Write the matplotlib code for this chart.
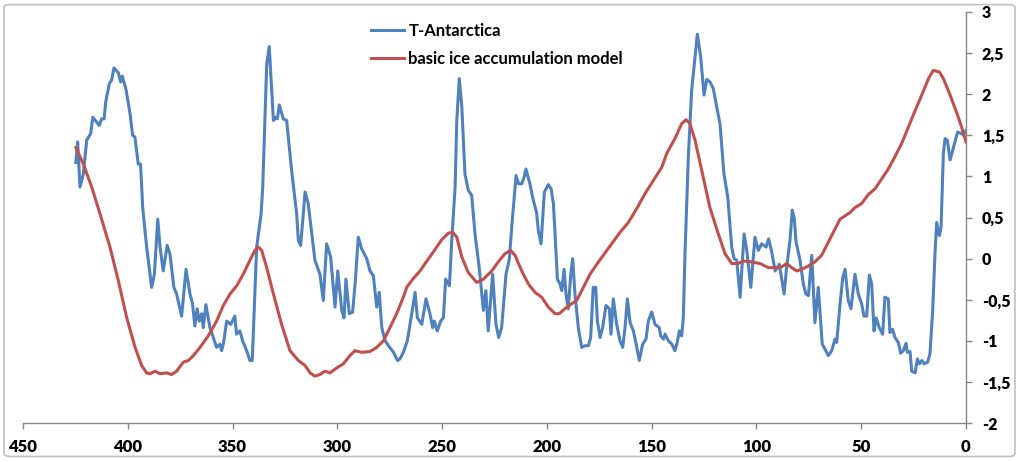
import matplotlib
matplotlib.use("Agg")
import matplotlib.pyplot as plt
from matplotlib.patches import FancyBboxPatch
from matplotlib.ticker import FixedLocator, FuncFormatter

## data (age in kyr BP, temperature anomaly)
t_age = [424.8, 423.9, 422.8, 421.2, 419.6, 417.7, 416.7, 413.6, 412.5, 411.3,
         410.5, 408.8, 407.7, 406.6, 404.5, 403.4, 402.6, 400.8, 398.9, 397.7,
         396.6, 395.0, 393.9, 392.9, 391.0, 388.6, 387.3, 385.7, 384.6, 383.1,
         381.2, 379.9, 378.0, 376.7, 374.3, 372.2, 370.3, 369.1, 368.0, 366.9,
         365.9, 364.7, 364.0, 362.7, 360.8, 357.6, 356.0, 355.2, 354.4, 352.8,
         350.9, 348.9, 348.1, 346.5, 345.2, 343.3, 341.7, 340.6, 338.5, 336.4,
         335.6, 333.7, 332.5, 330.5, 329.4, 328.6, 327.7, 325.8, 324.2, 321.8,
         319.4, 318.6, 317.5, 315.4, 313.9, 310.7, 308.3, 306.7, 305.1, 303.2,
         301.1, 299.8, 297.9, 296.8, 295.9, 294.3, 292.7, 291.4, 290.0, 288.4,
         286.0, 284.4, 282.8, 281.2, 280.0, 278.8, 277.2, 275.6, 273.2, 271.3,
         270.1, 268.5, 266.6, 264.5, 262.9, 261.8, 259.7, 257.7, 255.8, 254.5,
         253.7, 252.3, 250.7, 249.4, 248.3, 246.5, 245.4, 243.8, 243.0, 241.8,
         240.6, 239.1, 237.5, 235.9, 234.3, 232.3, 230.3, 229.1, 228.0, 225.9,
         224.3, 223.0, 221.6, 219.5, 217.9, 216.8, 214.7, 213.5, 212.0, 210.9,
         210.0, 208.1, 206.5, 204.9, 204.1, 202.8, 201.2, 199.3, 198.0, 196.9,
         196.1, 195.0, 193.7, 192.9, 191.8, 190.9, 189.8, 188.6, 187.7, 186.6,
         185.0, 183.4, 181.8, 180.2, 179.1, 177.9, 176.7, 175.9, 174.6, 173.4,
         171.8, 170.2, 169.4, 168.3, 166.7, 165.1, 163.8, 162.7, 161.6, 160.3,
         158.7, 157.1, 155.9, 154.3, 152.7, 151.6, 150.0, 148.4, 146.4, 145.7,
         144.4, 143.6, 142.0, 140.4, 138.9, 137.8, 136.8, 135.7, 134.9, 134.1,
         132.5, 130.9, 129.3, 128.2, 126.6, 125.0, 123.7, 122.2, 120.6, 119.0,
         117.4, 115.5, 113.7, 111.8, 110.7, 109.4, 107.8, 105.9, 104.6, 102.7,
         100.7, 99.1, 97.5, 95.4, 94.2, 92.7, 91.1, 89.1, 86.8, 85.6,
         84.0, 82.9, 81.9, 81.1, 79.2, 77.6, 76.4, 75.2, 73.6, 72.1,
         70.5, 68.6, 66.9, 65.7, 64.1, 62.5, 61.7, 60.1, 58.8, 57.7,
         56.2, 54.9, 53.0, 51.4, 49.8, 48.7, 47.4, 46.1, 45.0, 43.9,
         42.9, 41.4, 39.8, 38.7, 37.1, 36.3, 35.0, 33.9, 32.3, 31.2,
         29.9, 28.6, 28.0, 26.7, 25.9, 24.3, 23.2, 22.3, 21.1, 20.0,
         18.3, 17.2, 15.9, 14.8, 14.0, 12.7, 11.9, 10.8, 10.0, 8.9,
         7.6, 6.1, 4.0, 2.1, 1.3, 0.0]
t_antarctica = [1.17, 1.42, 0.87, 1.03, 1.44, 1.52, 1.72, 1.62, 1.70, 1.70,
                1.91, 2.13, 2.17, 2.32, 2.26, 2.15, 2.22, 2.05, 1.76, 1.50,
                1.48, 1.15, 1.15, 0.63, 0.14, -0.35, -0.19, 0.48, 0.14, -0.15,
                0.16, 0.06, -0.35, -0.43, -0.70, -0.13, -0.43, -0.55, -0.82, -0.61,
                -0.76, -0.67, -0.84, -0.56, -0.84, -1.08, -1.04, -1.12, -1.04, -0.76,
                -0.80, -0.70, -0.92, -0.88, -1.00, -1.12, -1.24, -1.24, 0.14, 0.54,
                0.87, 2.37, 2.58, 1.68, 1.72, 1.70, 1.87, 1.70, 1.68, 1.07,
                0.54, 0.22, 0.16, 0.81, 0.67, -0.02, -0.19, -0.51, 0.18, 0.02,
                -0.59, -0.15, -0.63, -0.72, -0.25, -0.67, -0.65, -0.27, 0.26, 0.12,
                0.00, -0.15, -0.21, -0.59, -0.41, -0.84, -1.00, -1.06, -1.14, -1.24,
                -1.22, -1.14, -1.00, -0.67, -0.41, -0.72, -0.80, -0.49, -0.67, -0.84,
                -0.76, -0.88, -0.76, -0.72, -0.25, -0.33, 0.22, 0.87, 1.68, 2.19,
                1.85, 1.03, 0.83, 0.77, 0.30, -0.11, -0.63, -0.39, -0.88, -0.19,
                -0.80, -0.96, -0.84, -0.19, 0.00, 0.38, 1.01, 0.91, 0.91, 0.99,
                1.09, 0.91, 0.71, 0.56, 0.34, 0.18, 0.81, 0.90, 0.85, 0.67,
                0.30, -0.25, -0.31, -0.39, -0.13, -0.43, -0.61, -0.19, 0.00, -0.43,
                -0.84, -1.08, -1.06, -1.06, -0.96, -0.35, -0.35, -0.76, -0.96, -0.84,
                -0.57, -0.61, -0.92, -0.49, -0.80, -1.00, -1.08, -0.84, -0.49, -0.78,
                -0.88, -1.08, -1.24, -1.04, -0.98, -0.76, -0.65, -0.80, -0.84, -0.94,
                -0.98, -0.92, -1.00, -1.04, -1.12, -1.02, -0.88, -0.94, -0.72, 0.06,
                1.24, 2.05, 2.45, 2.73, 2.45, 1.99, 2.18, 2.15, 2.07, 1.85,
                1.64, 1.03, 0.75, 0.14, 0.00, -0.02, -0.47, 0.30, 0.10, -0.35,
                0.26, 0.10, 0.18, 0.14, 0.24, 0.08, -0.15, -0.07, -0.43, -0.11,
                0.22, 0.59, 0.48, 0.20, -0.02, -0.31, -0.43, -0.45, 0.04, -0.78,
                -0.35, -1.04, -1.12, -1.18, -1.12, -0.98, -1.02, -0.55, -0.23, -0.13,
                -0.51, -0.61, -0.19, -0.43, -0.55, -0.70, -0.70, -0.20, -0.31, -0.88,
                -0.72, -0.84, -0.92, -0.47, -0.49, -0.90, -0.86, -0.96, -1.02, -1.15,
                -1.12, -1.03, -1.14, -1.13, -1.37, -1.39, -1.22, -1.28, -1.24, -1.28,
                -1.26, -1.16, -0.63, 0.06, 0.44, 0.28, 0.38, 1.28, 1.46, 1.44,
                1.20, 1.34, 1.54, 1.52, 1.50, 1.56]

m_age = [424.8, 421.2, 417.2, 413.2, 408.5, 404.5, 400.5, 396.5, 393.4, 391.0,
         389.4, 387.0, 384.6, 381.5, 379.1, 376.7, 373.5, 371.1, 368.7, 365.5,
         361.6, 357.6, 354.4, 351.2, 348.0, 344.9, 341.7, 339.3, 337.7, 336.1,
         333.7, 330.5, 326.6, 322.6, 318.6, 315.4, 313.0, 310.7, 308.3, 305.9,
         303.5, 300.3, 297.1, 294.0, 291.6, 288.4, 284.4, 281.2, 278.0, 274.9,
         271.7, 268.5, 266.9, 263.7, 260.5, 257.3, 254.2, 250.2, 247.0, 244.9,
         243.0, 240.6, 237.5, 233.5, 230.3, 226.3, 223.2, 220.0, 217.3, 215.2,
         212.0, 208.8, 205.7, 202.5, 199.3, 196.1, 194.1, 191.4, 188.2, 185.8,
         182.6, 179.4, 176.2, 173.1, 169.1, 165.1, 161.1, 157.1, 153.2, 149.2,
         145.2, 142.8, 138.9, 135.7, 133.6, 131.7, 129.3, 126.1, 122.2, 118.2,
         115.0, 111.8, 108.7, 106.3, 102.3, 98.3, 94.3, 90.3, 87.9, 85.6,
         83.2, 80.8, 78.4, 75.2, 72.1, 68.9, 65.7, 62.5, 60.1, 57.7,
         55.4, 53.0, 49.8, 46.6, 43.4, 40.2, 37.1, 33.9, 30.7, 27.5,
         24.3, 21.1, 17.9, 15.6, 12.7, 10.8, 7.6, 4.5, 2.1, 0.0]
ice_model = [1.35, 1.15, 0.87, 0.54, 0.14, -0.27, -0.72, -1.08, -1.30, -1.39,
             -1.40, -1.37, -1.40, -1.39, -1.41, -1.37, -1.26, -1.24, -1.18, -1.08,
             -0.94, -0.76, -0.57, -0.43, -0.33, -0.19, -0.02, 0.10, 0.14, 0.10,
             -0.11, -0.43, -0.80, -1.12, -1.24, -1.30, -1.39, -1.43, -1.41, -1.37,
             -1.39, -1.33, -1.28, -1.18, -1.12, -1.14, -1.13, -1.08, -1.00, -0.84,
             -0.67, -0.47, -0.35, -0.24, -0.15, -0.03, 0.08, 0.23, 0.31, 0.32,
             0.26, 0.02, -0.17, -0.29, -0.25, -0.15, -0.04, 0.06, 0.10, 0.04,
             -0.15, -0.31, -0.41, -0.47, -0.59, -0.67, -0.67, -0.61, -0.55, -0.51,
             -0.35, -0.19, -0.07, 0.04, 0.18, 0.32, 0.44, 0.61, 0.79, 0.95,
             1.11, 1.28, 1.46, 1.64, 1.69, 1.64, 1.44, 1.07, 0.62, 0.30,
             0.06, -0.06, -0.06, -0.03, -0.04, -0.06, -0.11, -0.11, -0.10, -0.06,
             -0.11, -0.15, -0.13, -0.09, -0.04, 0.04, 0.20, 0.36, 0.48, 0.52,
             0.56, 0.62, 0.67, 0.78, 0.85, 0.97, 1.09, 1.24, 1.40, 1.60,
             1.80, 1.99, 2.19, 2.29, 2.27, 2.19, 1.99, 1.78, 1.60, 1.42]

x_ticks = [450, 400, 350, 300, 250, 200, 150, 100, 50, 0]
y_ticks = [3, 2.5, 2, 1.5, 1, 0.5, 0, -0.5, -1, -1.5, -2]

## plot
plt.rcParams['font.family'] = ['Lato', 'DejaVu Sans']
fig = plt.figure(figsize=(10.19, 4.62), dpi=100)
ax = fig.add_axes([23/1019, 1 - 423/462, 943/1019, 411/462])

ax.plot(t_age, t_antarctica, color='#4F81BD', lw=2.2, label='T-Antarctica',
        solid_joinstyle='round')
ax.plot(m_age, ice_model, color='#C0504D', lw=2.2,
        label='basic ice accumulation model', solid_joinstyle='round')

ax.set_xlim(450, 0)
ax.set_ylim(-2, 3)

# excel-like axes: x axis at bottom, value axis on the right
for s in ['left', 'top']:
    ax.spines[s].set_visible(False)
for s in ['bottom', 'right']:
    ax.spines[s].set_color('#868686')
    ax.spines[s].set_linewidth(1.0)
ax.yaxis.tick_right()
ax.xaxis.set_major_locator(FixedLocator(x_ticks))
ax.yaxis.set_major_locator(FixedLocator(y_ticks))
ax.yaxis.set_major_formatter(FuncFormatter(lambda v, p: ('%g' % v).replace('.', ',')))
ax.tick_params(axis='both', direction='out', length=4.5, width=1.0,
               color='#868686', labelsize=12)
ax.tick_params(axis='x', pad=7)
ax.tick_params(axis='y', pad=7, labelsize=11.5)
for lab in ax.get_xticklabels() + ax.get_yticklabels():
    lab.set_fontweight('heavy')

leg = ax.legend(loc='upper left', bbox_to_anchor=(333/943, 1.01), frameon=False,
                handlelength=2.0, handletextpad=0.25, labelspacing=0.7,
                prop={'weight': 'bold', 'size': 12})

# chart area border
fig.patches.append(FancyBboxPatch((0.004, 0.012), 0.992, 0.978,
                                  boxstyle='round,pad=0,rounding_size=0.006',
                                  transform=fig.transFigure, fill=False,
                                  edgecolor='#BFBFBF', lw=1.2))

fig.savefig('out.png', dpi=100)
